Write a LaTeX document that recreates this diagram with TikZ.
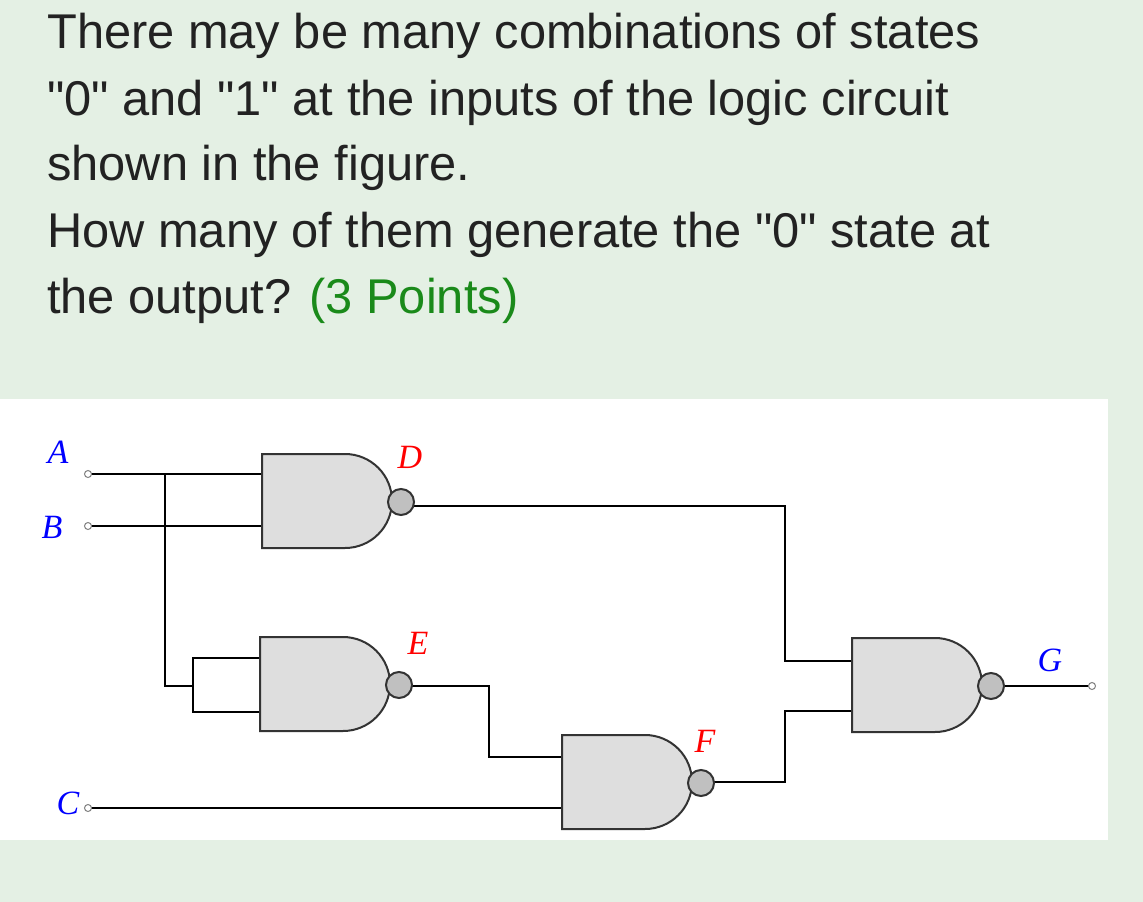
\documentclass[tikz,border=0pt]{standalone}
\usepackage{fontspec}
\setmainfont{Liberation Sans}
\newfontfamily\lblfont{Liberation Serif}
\definecolor{bg}{HTML}{E4F0E4}
\definecolor{txt}{HTML}{222222}
\definecolor{pts}{HTML}{1A8A1A}
\definecolor{gfill}{HTML}{DEDEDE}
\definecolor{bfill}{HTML}{C0C0C0}
\newcommand{\q}{\XeTeXglyph\XeTeXglyphindex "quotedbl" }
\begin{document}
\begin{tikzpicture}[x=1pt,y=-1pt,
  wire/.style={line width=2.2pt,black},
  gateline/.style={line width=2pt,draw={black!80},fill=gfill},
  term/.style={circle,draw=gray,fill=white,line width=1pt,inner sep=0pt,minimum size=7pt},
  ttl/.style={anchor=base west,inner sep=0pt,font=\fontsize{48.8}{50}\selectfont,text=txt},
  inl/.style={font=\lblfont\itshape\fontsize{34}{34}\selectfont,text=blue,inner sep=0pt},
  gl/.style={font=\lblfont\itshape\fontsize{34}{34}\selectfont,text=red,inner sep=0pt}]
\fill[bg] (0,0) rectangle (1143,902);
\useasboundingbox (0,0) rectangle (1143,902);
\fill[white] (0,399) rectangle (1108,840);
\node[ttl] (t1) at (47,48) {There may be many combinations of states};
\node[ttl] (t2) at (47,115) {\q0\q{} and \q1\q{} at the inputs of the logic circuit};
\node[ttl] (t3) at (47,180) {shown in the figure.};
\node[ttl] (t4) at (47,247) {How many of them generate the \q0\q{} state at};
\node[ttl] (t5) at (47,313) {the output? \textcolor{pts}{(3 Points)}};
\def\nand#1#2#3{%
  \draw[gateline] (#2,#3) -- ({#2+83},#3) arc[start angle=-90,end angle=90,radius=47] -- (#2,{#3+94}) -- cycle;
  \node[circle,draw={black!80},fill=bfill,line width=2pt,minimum size=26pt,inner sep=0pt] (#1) at ({#2+139},{#3+48}) {};}
\coordinate (a) at (88,474); \coordinate (b) at (88,526); \coordinate (c) at (88,808); \coordinate (g) at (1092,686);
\draw[wire] (a) -- (262,474);
\draw[wire] (b) -- (262,526);
\draw[wire] (165,474) -- (165,686) -- (193,686);
\draw[wire] (260,658) -- (193,658) -- (193,712) -- (260,712);
\draw[wire] (c) -- (562,808);
\draw[wire] (399,686) -- (489,686) -- (489,757) -- (562,757);
\draw[wire] (401,506) -- (785,506) -- (785,661) -- (852,661);
\draw[wire] (701,782) -- (785,782) -- (785,711) -- (852,711);
\draw[line width=1.6pt] (994,686) -- (g);
\nand{D}{262}{454}
\nand{E}{260}{637}
\nand{F}{562}{735}
\nand{G}{852}{638}
\node[term] at (a) {};
\node[term] at (b) {};
\node[term] at (c) {};
\node[term] at (g) {};
\node[inl] (la) at (58,452) {A};
\node[inl] (lb) at (52,527) {B};
\node[inl] (lc) at (68,803) {C};
\node[inl] (lg) at (1050,660) {G};
\node[gl] (ld) at (410,457) {D};
\node[gl] (le) at (418,643) {E};
\node[gl] (lf) at (705,741) {F};
\end{tikzpicture}
\end{document}
